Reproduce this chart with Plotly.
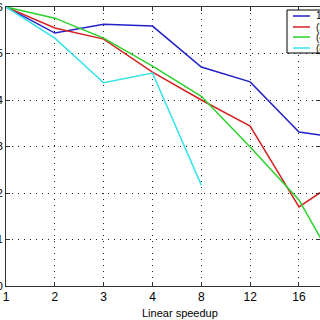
import plotly.graph_objects as go

categories = ["1", "2", "3", "4", "8", "12", "16", "20"]
series_names = ["1 node", "(2 nodes)", "(4 nodes)", "(8 nodes)"]
blue = [6.0, 5.44, 5.63, 5.59, 4.71, 4.39, 3.31, 3.16]
red = [6.0, 5.55, 5.31, 4.60, 4.00, 3.44, 1.70, 2.41]
green = [6.0, 5.76, 5.33, 4.73, 4.08, 2.99, 1.85, 0.0]
cyan = [6.0, 5.33, 4.37, 4.58, 2.17]
colors = ["#2222c8", "#d42222", "#2ad22a", "#34e4ea"]
y_ticks = [0, 1, 2, 3, 4, 5, 6]
y_ticklabels = ["0", "0.1", "0.2", "0.3", "0.4", "0.5", "0.6"]

fig = go.Figure()
for name, vals, col in zip(series_names, [blue, red, green, cyan], colors):
    fig.add_trace(go.Scatter(x=categories[:len(vals)], y=vals, mode="lines",
                             line=dict(color=col, width=1.5), name=name,
                             showlegend=False, cliponaxis=True))

L, R, T, B = 6, 320, 7, 286
W, H = R - L, B - T
def px(x): return (x - L) / W
def py(y): return (B - y) / H

shapes = [dict(type="rect", xref="paper", yref="paper", x0=px(287), x1=px(340),
               y0=py(53), y1=py(10), line=dict(color="black", width=1),
               fillcolor="white", layer="above")]
annotations = []
for i, (name, col) in enumerate(zip(series_names, colors)):
    yy = [16, 27, 37, 48][i]
    shapes.append(dict(type="line", xref="paper", yref="paper", x0=px(293), x1=px(310),
                       y0=py(yy), y1=py(yy), line=dict(color=col, width=1.5), layer="above"))
    annotations.append(dict(xref="paper", yref="paper", x=px(314), y=py(yy), text=name,
                            showarrow=False, xanchor="left", yanchor="middle",
                            font=dict(size=10, color="black")))
annotations.append(dict(xref="paper", yref="paper", x=px(180), y=py(313), text="Linear speedup",
                        showarrow=False, xanchor="center", yanchor="middle",
                        font=dict(size=11, color="black")))

fig.update_layout(
    width=320, height=320,
    margin=dict(l=L, r=0, t=T, b=320 - B),
    paper_bgcolor="white", plot_bgcolor="white",
    font=dict(family="Liberation Sans, Arial, sans-serif", size=11, color="black"),
    shapes=shapes, annotations=annotations, showlegend=False,
    xaxis=dict(type="category", categoryorder="array", categoryarray=categories,
               range=[0, (R - L) / 48.83], showgrid=True, gridcolor="#222",
               griddash="1px,5px", gridwidth=1, showline=True, linecolor="#333",
               linewidth=1, mirror="ticks", ticks="inside", ticklen=4,
               tickcolor="#333", zeroline=False, tickfont=dict(size=12),
               automargin=False),
    yaxis=dict(range=[0, 6], tickvals=y_ticks, ticktext=y_ticklabels,
               showgrid=True, gridcolor="#222", griddash="1px,5px", gridwidth=1,
               showline=True, linecolor="#333", linewidth=1, mirror="ticks",
               ticks="inside", ticklen=4, tickcolor="#333", zeroline=False,
               tickfont=dict(size=11), automargin=False),
)
fig.write_html("out.html")
